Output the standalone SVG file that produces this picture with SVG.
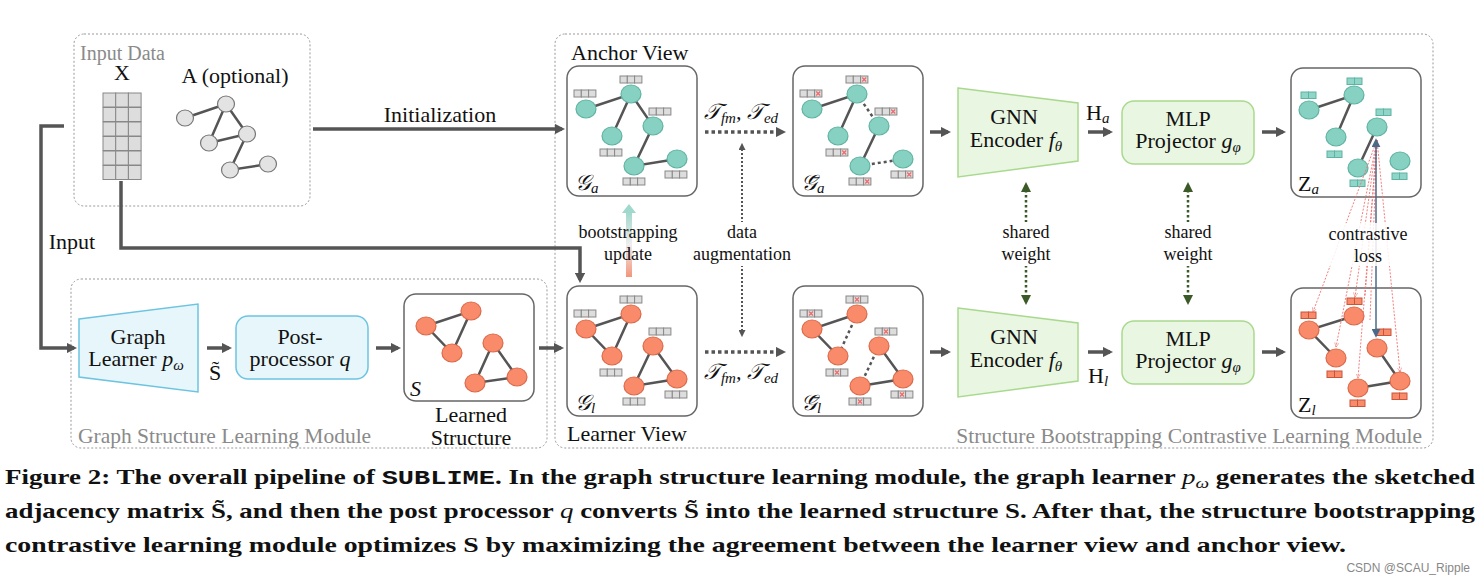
<svg xmlns="http://www.w3.org/2000/svg" width="1483" height="584" viewBox="0 0 1483 584">
<style>
text{font-family:"Liberation Serif","DejaVu Serif",serif;fill:#111}
.lb{font-size:22px}
.md{font-size:18px}
.gr{fill:#8a8a8a;font-size:21.5px}
.mod{fill:none;stroke:#999;stroke-dasharray:2 2;stroke-width:1}
.view{fill:#fff;stroke:#666;stroke-width:1.5}
.ar{stroke:#555;stroke-width:3.5;fill:none}
.e{stroke:#555;stroke-width:3;fill:none}
.ed{stroke:#555;stroke-width:3;stroke-dasharray:3 3;fill:none}
.t{fill:#86d1c2;stroke:#5fb3a3;stroke-width:1.2}
.o{fill:#f98b6b;stroke:#dc6a4a;stroke-width:1.2}
.g{fill:#e3e3e3;stroke:#777;stroke-width:1.2}
.cap{font-weight:bold;font-size:21px}
</style>
<defs>
<marker id="ah" viewBox="0 0 10 10" refX="7" refY="5" markerWidth="3" markerHeight="3" orient="auto"><path d="M0,0L10,5L0,10z" fill="#555"/></marker>
<marker id="ahg" viewBox="0 0 10 10" refX="7" refY="5" markerWidth="4" markerHeight="4" orient="auto-start-reverse"><path d="M0,0L10,5L0,10z" fill="#3b5a27"/></marker>
<marker id="ahd" viewBox="0 0 10 10" refX="7" refY="5" markerWidth="3.5" markerHeight="3.5" orient="auto-start-reverse"><path d="M0,0L10,5L0,10z" fill="#555"/></marker>
<marker id="ahb" viewBox="0 0 10 10" refX="8" refY="5" markerWidth="6" markerHeight="6" orient="auto-start-reverse"><path d="M0,0L10,5L0,10z" fill="#4a6a8a"/></marker>
<marker id="ahr" viewBox="0 0 10 10" refX="8" refY="5" markerWidth="6" markerHeight="6" orient="auto"><path d="M0,1L8,5L0,9" fill="none" stroke="#f07070"/></marker>
<linearGradient id="bg" x1="0" y1="1" x2="0" y2="0"><stop offset="0" stop-color="#f3957a"/><stop offset="0.5" stop-color="#f0eeee"/><stop offset="1" stop-color="#9fd8cc"/></linearGradient>
<g id="fb"><rect x="0" y="0" width="7.3" height="7" fill="#ddd" stroke="#888" stroke-width="1"/><rect x="7.3" y="0" width="7.3" height="7" fill="#ddd" stroke="#888" stroke-width="1"/><rect x="14.6" y="0" width="7.3" height="7" fill="#ddd" stroke="#888" stroke-width="1"/></g>
<g id="x"><path d="M-2,-2L2,2M-2,2L2,-2" stroke="#f06a6a" stroke-width="1.3"/></g>
<g id="fbx3"><use href="#fb"/><use href="#x" x="18.2" y="3.5"/></g>
<g id="fbx2"><use href="#fb"/><use href="#x" x="11" y="3.5"/></g>
<g id="ft"><rect x="0" y="0" width="7.5" height="6.5" fill="#8fd5c8" stroke="#5fb3a3"/><rect x="7.5" y="0" width="7.5" height="6.5" fill="#8fd5c8" stroke="#5fb3a3"/></g>
<g id="fo"><rect x="0" y="0" width="7.5" height="6.5" fill="#f98b6b" stroke="#c8553a"/><rect x="7.5" y="0" width="7.5" height="6.5" fill="#f98b6b" stroke="#c8553a"/></g>
</defs>

<g id="input-data">
<rect class="mod" x="74" y="34" width="236" height="172" rx="10"/>
<text class="gr" x="80" y="60" style="font-size:20px">Input Data</text>
<text class="lb" x="122" y="80" text-anchor="middle">X</text>
<g fill="#ddd" stroke="#888" stroke-width="1">
<rect x="103" y="93" width="12.7" height="14"/><rect x="115.7" y="93" width="12.7" height="14"/><rect x="128.4" y="93" width="12.7" height="14"/>
<rect x="103" y="107.5" width="12.7" height="14"/><rect x="115.7" y="107.5" width="12.7" height="14"/><rect x="128.4" y="107.5" width="12.7" height="14"/>
<rect x="103" y="122" width="12.7" height="14"/><rect x="115.7" y="122" width="12.7" height="14"/><rect x="128.4" y="122" width="12.7" height="14"/>
<rect x="103" y="136.5" width="12.7" height="14"/><rect x="115.7" y="136.5" width="12.7" height="14"/><rect x="128.4" y="136.5" width="12.7" height="14"/>
<rect x="103" y="151" width="12.7" height="14"/><rect x="115.7" y="151" width="12.7" height="14"/><rect x="128.4" y="151" width="12.7" height="14"/>
<rect x="103" y="165.5" width="12.7" height="14"/><rect x="115.7" y="165.5" width="12.7" height="14"/><rect x="128.4" y="165.5" width="12.7" height="14"/>
</g>
<text class="lb" x="235" y="83" text-anchor="middle">A (optional)</text>
<path class="e" d="M185,118L226,104L247,134L209,143M226,104L209,143M247,134L230,170L268,164" style="stroke-width:2.5"/>
<ellipse class="g" cx="185" cy="118" rx="8.5" ry="8"/><ellipse class="g" cx="226" cy="104" rx="8.5" ry="8"/><ellipse class="g" cx="247" cy="134" rx="8.5" ry="8"/><ellipse class="g" cx="209" cy="143" rx="8.5" ry="8"/><ellipse class="g" cx="230" cy="170" rx="8.5" ry="8"/><ellipse class="g" cx="268" cy="164" rx="8.5" ry="8"/>
</g>

<g id="gsl-module">
<rect class="mod" x="71" y="279" width="476" height="169" rx="10"/>
<text class="gr" x="78" y="443">Graph Structure Learning Module</text>
</g>
<g id="sbcl-module">
<rect class="mod" x="555" y="34" width="878" height="414" rx="10"/>
<text class="gr" x="1422" y="443" text-anchor="end">Structure Bootstrapping Contrastive Learning Module</text>
</g>

<g id="graph-learner">
<polygon points="79,319 198,304 198,392 79,377" fill="#e6f6fb" stroke="#6cc4e0" stroke-width="1.5"/>
<text class="lb" x="138" y="344" text-anchor="middle">Graph</text>
<text class="lb" x="136" y="366" text-anchor="middle">Learner <tspan font-style="italic">p</tspan><tspan font-style="italic" font-size="15" dy="4">ω</tspan></text>
</g>
<g id="post-processor">
<rect x="236" y="316" width="132" height="63" rx="12" fill="#e6f6fb" stroke="#6cc4e0" stroke-width="1.5"/>
<text class="lb" x="300" y="344" text-anchor="middle">Post-</text>
<text class="lb" x="300" y="366" text-anchor="middle">processor <tspan font-style="italic">q</tspan></text>
</g>
<g id="learned-structure">
<rect class="view" x="404" y="294" width="130" height="107" rx="12"/>
<path class="e" d="M426,326L471,311L452,353L426,326M493,343L517,377L475,383L493,343" style="stroke-width:2.5"/>
<ellipse class="o" cx="426" cy="326" rx="10" ry="9"/><ellipse class="o" cx="471" cy="311" rx="10" ry="9"/><ellipse class="o" cx="452" cy="353" rx="10" ry="9"/><ellipse class="o" cx="493" cy="343" rx="10" ry="9"/><ellipse class="o" cx="517" cy="377" rx="10" ry="9"/><ellipse class="o" cx="475" cy="383" rx="10" ry="9"/>
<text class="lb" x="410" y="396" font-style="italic">S</text>
<text class="lb" x="471" y="422" text-anchor="middle">Learned</text>
<text class="lb" x="471" y="445" text-anchor="middle">Structure</text>
</g>

<g id="anchor-view">
<text class="lb" x="571" y="60">Anchor View</text>
<rect class="view" x="567" y="66" width="130" height="130" rx="12"/>
<path class="e" d="M586,109L631,94L612,136M631,94L653,126L634,166L677,159" style="stroke-width:2.5"/>
<ellipse class="t" cx="586" cy="109" rx="10" ry="9"/><ellipse class="t" cx="631" cy="94" rx="10" ry="9"/><ellipse class="t" cx="612" cy="136" rx="10" ry="9"/><ellipse class="t" cx="653" cy="126" rx="10" ry="9"/><ellipse class="t" cx="634" cy="166" rx="10" ry="9"/><ellipse class="t" cx="677" cy="159" rx="10" ry="9"/>
<use href="#fb" x="574" y="90"/><use href="#fb" x="620" y="76"/><use href="#fb" x="649" y="108"/><use href="#fb" x="600" y="149"/><use href="#fb" x="623" y="178"/><use href="#fb" x="665" y="171"/>
<text class="lb" x="575" y="190" font-style="italic">𝒢<tspan font-size="15" dy="3">a</tspan></text>
</g>
<g id="anchor-aug">
<rect class="view" x="793" y="66" width="130" height="130" rx="12"/>
<path class="e" d="M812,109L857,94L838,136M879,126L860,166" style="stroke-width:2.5"/>
<path class="ed" d="M857,94L879,126M860,166L903,159" style="stroke-width:2.5"/>
<ellipse class="t" cx="812" cy="109" rx="10" ry="9"/><ellipse class="t" cx="857" cy="94" rx="10" ry="9"/><ellipse class="t" cx="838" cy="136" rx="10" ry="9"/><ellipse class="t" cx="879" cy="126" rx="10" ry="9"/><ellipse class="t" cx="860" cy="166" rx="10" ry="9"/><ellipse class="t" cx="903" cy="159" rx="10" ry="9"/>
<use href="#fbx3" x="800" y="90"/><use href="#fbx3" x="846" y="76"/><use href="#fbx3" x="875" y="108"/><use href="#fbx3" x="826" y="149"/><use href="#fbx3" x="849" y="178"/><use href="#fbx3" x="891" y="171"/>
<text class="lb" x="801" y="190" font-style="italic">𝒢̄<tspan font-size="15" dy="3">a</tspan></text>
</g>
<g id="learner-view">
<rect class="view" x="567" y="286" width="130" height="130" rx="12"/>
<path class="e" d="M586,329L631,314L612,356L586,329M653,346L634,386L677,379L653,346" style="stroke-width:2.5"/>
<ellipse class="o" cx="586" cy="329" rx="10" ry="9"/><ellipse class="o" cx="631" cy="314" rx="10" ry="9"/><ellipse class="o" cx="612" cy="356" rx="10" ry="9"/><ellipse class="o" cx="653" cy="346" rx="10" ry="9"/><ellipse class="o" cx="634" cy="386" rx="10" ry="9"/><ellipse class="o" cx="677" cy="379" rx="10" ry="9"/>
<use href="#fb" x="574" y="310"/><use href="#fb" x="620" y="296"/><use href="#fb" x="649" y="328"/><use href="#fb" x="600" y="369"/><use href="#fb" x="623" y="398"/><use href="#fb" x="665" y="391"/>
<text class="lb" x="575" y="410" font-style="italic">𝒢<tspan font-size="15" dy="3">l</tspan></text>
<text class="lb" x="567" y="441">Learner View</text>
</g>
<g id="learner-aug">
<rect class="view" x="793" y="286" width="130" height="130" rx="12"/>
<path class="e" d="M838,356L812,329L857,314M879,346L903,379L860,386" style="stroke-width:2.5"/>
<path class="ed" d="M857,314L838,356M879,346L860,386" style="stroke-width:2.5"/>
<ellipse class="o" cx="812" cy="329" rx="10" ry="9"/><ellipse class="o" cx="857" cy="314" rx="10" ry="9"/><ellipse class="o" cx="838" cy="356" rx="10" ry="9"/><ellipse class="o" cx="879" cy="346" rx="10" ry="9"/><ellipse class="o" cx="860" cy="386" rx="10" ry="9"/><ellipse class="o" cx="903" cy="379" rx="10" ry="9"/>
<use href="#fbx2" x="800" y="310"/><use href="#fbx2" x="846" y="296"/><use href="#fbx2" x="875" y="328"/><use href="#fbx2" x="826" y="369"/><use href="#fbx2" x="849" y="398"/><use href="#fbx2" x="891" y="391"/>
<text class="lb" x="801" y="410" font-style="italic">𝒢̄<tspan font-size="15" dy="3">l</tspan></text>
</g>

<g id="gnn-a">
<polygon points="958,88 1078,103 1078,161 958,177" fill="#e9f6e1" stroke="#a9d98e" stroke-width="1.5"/>
<text class="lb" x="1014" y="124" text-anchor="middle">GNN</text>
<text class="lb" x="1016" y="147" text-anchor="middle">Encoder <tspan font-style="italic">f</tspan><tspan font-style="italic" font-size="15" dy="4">θ</tspan></text>
</g>
<g id="gnn-l">
<polygon points="958,308 1078,323 1078,381 958,397" fill="#e9f6e1" stroke="#a9d98e" stroke-width="1.5"/>
<text class="lb" x="1014" y="344" text-anchor="middle">GNN</text>
<text class="lb" x="1016" y="367" text-anchor="middle">Encoder <tspan font-style="italic">f</tspan><tspan font-style="italic" font-size="15" dy="4">θ</tspan></text>
</g>
<g id="mlp-a">
<rect x="1122" y="101" width="132" height="63" rx="12" fill="#e9f6e1" stroke="#a9d98e" stroke-width="1.5"/>
<text class="lb" x="1188" y="126" text-anchor="middle">MLP</text>
<text class="lb" x="1188" y="148" text-anchor="middle">Projector <tspan font-style="italic">g</tspan><tspan font-style="italic" font-size="15" dy="4">φ</tspan></text>
</g>
<g id="mlp-l">
<rect x="1122" y="321" width="132" height="63" rx="12" fill="#e9f6e1" stroke="#a9d98e" stroke-width="1.5"/>
<text class="lb" x="1188" y="346" text-anchor="middle">MLP</text>
<text class="lb" x="1188" y="368" text-anchor="middle">Projector <tspan font-style="italic">g</tspan><tspan font-style="italic" font-size="15" dy="4">φ</tspan></text>
</g>
<g id="z-a">
<rect class="view" x="1291" y="68" width="130" height="129" rx="12"/>
<path class="e" d="M1309,110L1354,95L1336,137M1377,127L1358,168" style="stroke-width:2.5"/>
<ellipse class="t" cx="1309" cy="110" rx="10" ry="9"/><ellipse class="t" cx="1354" cy="95" rx="10" ry="9"/><ellipse class="t" cx="1336" cy="137" rx="10" ry="9"/><ellipse class="t" cx="1377" cy="127" rx="10" ry="9"/><ellipse class="t" cx="1358" cy="168" rx="10" ry="9"/><ellipse class="t" cx="1400" cy="161" rx="10" ry="9"/>
<use href="#ft" x="1301" y="92"/><use href="#ft" x="1347" y="78"/><use href="#ft" x="1376" y="109"/><use href="#ft" x="1327" y="151"/><use href="#ft" x="1350" y="180"/><use href="#ft" x="1392" y="173"/>
<text class="lb" x="1298" y="191">Z<tspan font-style="italic" font-size="15" dy="3">a</tspan></text>
</g>
<g id="z-l">
<rect class="view" x="1291" y="288" width="130" height="130" rx="12"/>
<path class="e" d="M1354,316L1309,330L1336,358M1377,348L1400,381L1358,388" style="stroke-width:2.5"/>
<ellipse class="o" cx="1309" cy="330" rx="10" ry="9"/><ellipse class="o" cx="1354" cy="316" rx="10" ry="9"/><ellipse class="o" cx="1336" cy="358" rx="10" ry="9"/><ellipse class="o" cx="1377" cy="348" rx="10" ry="9"/><ellipse class="o" cx="1358" cy="388" rx="10" ry="9"/><ellipse class="o" cx="1400" cy="381" rx="10" ry="9"/>
<use href="#fo" x="1301" y="312"/><use href="#fo" x="1347" y="298"/><use href="#fo" x="1376" y="329"/><use href="#fo" x="1327" y="371"/><use href="#fo" x="1350" y="400"/><use href="#fo" x="1392" y="393"/>
<text class="lb" x="1298" y="412">Z<tspan font-style="italic" font-size="15" dy="3">l</tspan></text>
</g>

<g id="connectors">
<path class="ar" d="M313,129H562" marker-end="url(#ah)"/>
<text class="lb" x="440" y="122" text-anchor="middle">Initialization</text>
<path class="ar" d="M64,126H41V348H74" marker-end="url(#ah)"/>
<text class="lb" x="72" y="249" text-anchor="middle">Input</text>
<path class="ar" d="M121,181V248H580V280" marker-end="url(#ah)"/>
<path class="ar" d="M207,348H229" marker-end="url(#ah)"/>
<text class="lb" x="215" y="380" text-anchor="middle">S̃</text>
<path class="ar" d="M376,348H398" marker-end="url(#ah)"/>
<path class="ar" d="M539,348H561" marker-end="url(#ah)"/>
<rect x="626" y="212" width="6" height="65" fill="url(#bg)"/>
<path d="M622,213L629,204L636,213z" fill="#9fd8cc"/>
<text class="md" x="628" y="238" text-anchor="middle">bootstrapping</text>
<text class="md" x="628" y="260" text-anchor="middle">update</text>
<path d="M705,132H783" stroke="#555" stroke-width="3.5" stroke-dasharray="3.5 3" marker-end="url(#ah)"/>
<path d="M705,352H783" stroke="#555" stroke-width="3.5" stroke-dasharray="3.5 3" marker-end="url(#ah)"/>
<text class="lb" x="741" y="119" text-anchor="middle" font-style="italic">𝒯<tspan font-size="15" dy="4">fm</tspan><tspan dy="-4">, 𝒯</tspan><tspan font-size="15" dy="4">ed</tspan></text>
<text class="lb" x="741" y="379" text-anchor="middle" font-style="italic">𝒯<tspan font-size="15" dy="4">fm</tspan><tspan dy="-4">, 𝒯</tspan><tspan font-size="15" dy="4">ed</tspan></text>
<path d="M742,145V335" stroke="#555" stroke-width="2" stroke-dasharray="2 2" marker-start="url(#ahd)" marker-end="url(#ahd)"/>
<rect x="688" y="222" width="108" height="44" fill="#fff"/>
<text class="md" x="742" y="238" text-anchor="middle">data</text>
<text class="md" x="742" y="260" text-anchor="middle">augmentation</text>
<path class="ar" d="M930,132H948" marker-end="url(#ah)"/>
<path class="ar" d="M930,352H948" marker-end="url(#ah)"/>
<path class="ar" d="M1088,132H1110" marker-end="url(#ah)"/>
<path class="ar" d="M1088,352H1110" marker-end="url(#ah)"/>
<text class="lb" x="1086" y="120">H<tspan font-style="italic" font-size="15" dy="3">a</tspan></text>
<text class="lb" x="1088" y="383">H<tspan font-style="italic" font-size="15" dy="3">l</tspan></text>
<path class="ar" d="M1262,132H1283" marker-end="url(#ah)"/>
<path class="ar" d="M1262,352H1283" marker-end="url(#ah)"/>
<path d="M1026,185V302" stroke="#3b5a27" stroke-width="2.5" stroke-dasharray="2.5 2.5" marker-start="url(#ahg)" marker-end="url(#ahg)"/>
<path d="M1188,185V302" stroke="#3b5a27" stroke-width="2.5" stroke-dasharray="2.5 2.5" marker-start="url(#ahg)" marker-end="url(#ahg)"/>
<rect x="995" y="222" width="62" height="44" fill="#fff"/>
<rect x="1157" y="222" width="62" height="44" fill="#fff"/>
<text class="md" x="1026" y="238" text-anchor="middle">shared</text>
<text class="md" x="1026" y="260" text-anchor="middle">weight</text>
<text class="md" x="1188" y="238" text-anchor="middle">shared</text>
<text class="md" x="1188" y="260" text-anchor="middle">weight</text>
<g stroke="#f07070" stroke-width="0.9" stroke-dasharray="2 1.5" fill="none">
<path d="M1377,140L1313,312" marker-end="url(#ahr)"/>
<path d="M1377,140L1336,347" marker-end="url(#ahr)"/>
<path d="M1377,140L1355,297" marker-end="url(#ahr)"/>
<path d="M1377,140L1358,378" marker-end="url(#ahr)"/>
<path d="M1377,140L1400,372" marker-end="url(#ahr)"/>
<path d="M1377,140L1365,297"/>
<path d="M1377,140L1370,320"/>
</g>
<path d="M1376,140V336" stroke="#4a6a8a" stroke-width="1.5" marker-start="url(#ahb)" marker-end="url(#ahb)"/>
<rect x="1320" y="223" width="96" height="43" fill="#fff" opacity="0.85"/>
<text class="md" x="1368" y="240" text-anchor="middle">contrastive</text>
<text class="md" x="1368" y="262" text-anchor="middle">loss</text>
</g>

<g id="caption">
<text class="cap" x="5" y="484" textLength="1470" lengthAdjust="spacingAndGlyphs">Figure 2: The overall pipeline of <tspan font-family="Liberation Mono,monospace">SUBLIME</tspan>. In the graph structure learning module, the graph learner <tspan font-style="italic" font-weight="normal">p</tspan><tspan font-style="italic" font-weight="normal" font-size="15" dy="4">ω</tspan><tspan dy="-4"> generates the sketched</tspan></text>
<text class="cap" x="5" y="518" textLength="1470" lengthAdjust="spacingAndGlyphs">adjacency matrix S̃, and then the post processor <tspan font-style="italic" font-weight="normal">q</tspan> converts S̃ into the learned structure S. After that, the structure bootstrapping</text>
<text class="cap" x="5" y="552" textLength="1341" lengthAdjust="spacingAndGlyphs">contrastive learning module optimizes S by maximizing the agreement between the learner view and anchor view.</text>
<text x="1470" y="572" text-anchor="end" style="font-family:'Liberation Sans',sans-serif;font-size:12px;fill:#888">CSDN @SCAU_Ripple</text>
</g>
</svg>
